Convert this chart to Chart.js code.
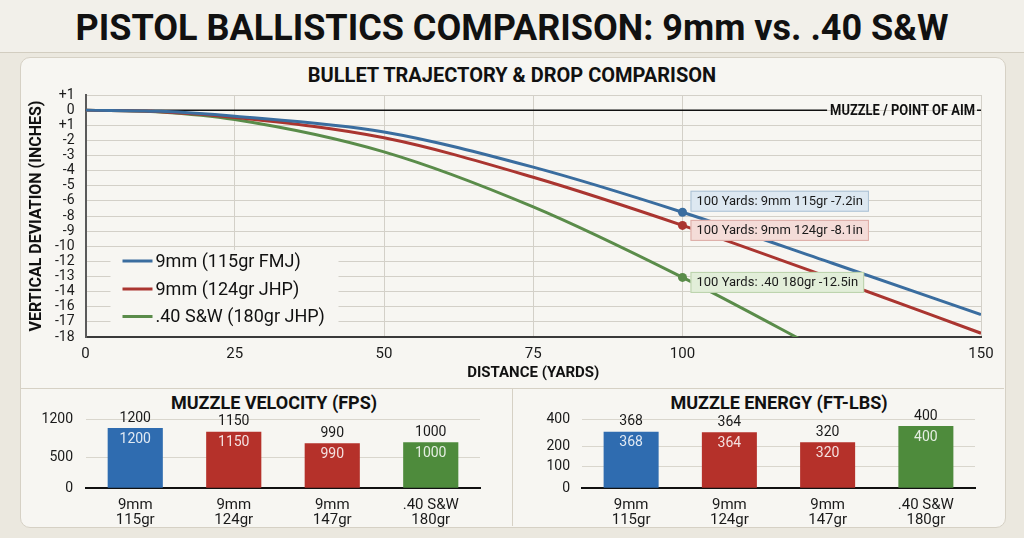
<!DOCTYPE html>
<html>
<head>
<meta charset="utf-8">
<script src="https://cdn.jsdelivr.net/npm/chart.js@4.4.0/dist/chart.umd.min.js"></script>
<style>
  body { margin: 0; width: 1024px; height: 538px; overflow: hidden; position: relative; background: #ebe8df; font-family: Roboto, sans-serif; color: #111; }
  #top { position: absolute; left: 0; top: 0; width: 1024px; height: 52px; background: #f2f0ea; border-bottom: 1px solid #d2cdc0; }
  #top h1 { margin: 0; font: bold 36px Roboto; line-height: 56px; text-align: center; }
  #panel { position: absolute; left: 20px; top: 57px; width: 984px; height: 469px; background: #f7f6f2; border: 1px solid #d6d1c5; border-radius: 10px; }
  .hline { position: absolute; left: 21px; top: 388px; width: 983px; height: 1px; background: #d6d1c5; }
  .vline { position: absolute; left: 512px; top: 388px; width: 1px; height: 138px; background: #d6d1c5; }
  .hdr { position: absolute; font-weight: bold; text-align: center; white-space: nowrap; }
  canvas { position: absolute; }
</style>
</head>
<body>
<div id="top"><h1>PISTOL BALLISTICS COMPARISON: 9mm vs. .40 S&amp;W</h1></div>
<div id="panel"></div>
<div class="hline"></div>
<div class="vline"></div>
<div class="hdr" style="left:0;top:63px;width:1024px;font-size:20px;line-height:25px;">BULLET TRAJECTORY &amp; DROP COMPARISON</div>
<div class="hdr" style="left:40px;top:392px;width:468px;font-size:18px;line-height:22px;">MUZZLE VELOCITY (FPS)</div>
<div class="hdr" style="left:545px;top:392px;width:468px;font-size:18px;line-height:22px;">MUZZLE ENERGY (FT-LBS)</div>
<canvas id="trajectory" width="985" height="331" style="left:20px;top:57px;"></canvas>
<canvas id="velocityChart" width="492" height="139" style="left:20px;top:388px;"></canvas>
<canvas id="energyChart" width="493" height="139" style="left:512px;top:388px;"></canvas>
<script>
// trajectory chart
const xTicks = [0, 25, 50, 75, 100, 150];
const yTickLabels = ['+1', '0', '+1', '-2', '-3', '-4', '-5', '-6', '-8', '-9', '-10', '-12', '-13', '-14', '-16', '-17', '-18'];
const seriesNames = ['9mm (115gr FMJ)', '9mm (124gr JHP)', '.40 S&W (180gr JHP)'];
const lineColors = ['#3a6d9f', '#aa3530', '#5a8c4a'];
// y values are positions on the evenly spaced tick rows (1 = top row "+1", -15 = bottom row "-18")
const yards = [0, 12.5, 25, 50, 75, 100, 125, 150];
const drop115 = [0, -0.08, -0.40, -1.44, -3.77, -6.75, -10.11, -13.51];
const drop124 = [0, -0.10, -0.48, -1.83, -4.44, -7.62, -11.13, -14.75];
const drop40 = [0, -0.12, -0.62, -2.76, -6.40, -11.06, -16.26];
const markerNames = ['9mm 115gr', '9mm 124gr', '.40 180gr'];
const dropAt100 = [-7.2, -8.1, -12.5];

// bar charts
const barCats = [['9mm', '115gr'], ['9mm', '124gr'], ['9mm', '147gr'], ['.40 S&W', '180gr']];
const barColors = ['#2f6cb0', '#b5312a', '#b5312a', '#4e8b3c'];
const velocity = [1200, 1150, 990, 1000];
const velocityBars = [0.876, 0.823, 0.654, 0.669];
const velocityTicks = ['0', '500', '1200'];
const velocityTickPos = [0, 0.45, 1];
const energy = [368, 364, 320, 400];
const energyBars = [0.823, 0.814, 0.669, 0.904];
const energyTicks = ['0', '100', '200', '400'];
const energyTickPos = [0, 0.31, 0.605, 1];

Chart.defaults.font.family = 'Roboto';
Chart.defaults.color = '#1a1a1a';

const toPoints = (xs, ys) => ys.map((v, i) => ({ x: xs[i], y: v }));

const trajectoryExtras = {
    id: 'trajectoryExtras',
    beforeDatasetsDraw(chart) {
        const { ctx, chartArea: a, scales: { y } } = chart;
        const y0 = y.getPixelForValue(0);
        const label = 'MUZZLE / POINT OF AIM';
        ctx.save();
        ctx.font = 'bold 15px Roboto';
        const tw = ctx.measureText(label).width * 0.86;
        const tx = a.right - 6 - tw;
        ctx.strokeStyle = '#111';
        ctx.lineWidth = 1.5;
        ctx.beginPath();
        ctx.moveTo(a.left, y0);
        ctx.lineTo(tx - 3, y0);
        ctx.moveTo(a.right - 4, y0);
        ctx.lineTo(a.right, y0);
        ctx.stroke();
        ctx.translate(tx, y0);
        ctx.scale(0.86, 1);
        ctx.fillStyle = '#111';
        ctx.textBaseline = 'middle';
        ctx.fillText(label, 0, 1);
        ctx.restore();
    },
    afterDatasetsDraw(chart) {
        const { ctx, chartArea: a, scales: { x, y } } = chart;
        ctx.save();

        // legend in the lower left corner
        ctx.fillStyle = '#f7f6f2';
        ctx.fillRect(a.left + 25, a.bottom - 87, 228, 86);
        ctx.font = '18px Roboto';
        ctx.textBaseline = 'middle';
        const rows = [76, 48, 20.5];
        seriesNames.forEach((name, i) => {
            const ry = a.bottom - rows[i];
            ctx.strokeStyle = lineColors[i];
            ctx.lineWidth = 3;
            ctx.beginPath();
            ctx.moveTo(a.left + 37, ry);
            ctx.lineTo(a.left + 67, ry);
            ctx.stroke();
            ctx.fillStyle = '#111';
            ctx.fillText(name, a.left + 70, ry + 1);
        });

        // 100 yard callouts
        const fills = ['#dde8f1', '#f4dcd8', '#e2eed9'];
        const edges = ['#a9bfd3', '#dcaaa4', '#b9d1aa'];
        const shift = [-11, 5, 5];
        ctx.font = '13px Roboto';
        chart.data.datasets.forEach((ds, i) => {
            const pt = ds.data.find(p => p.x === 100);
            const px = x.getPixelForValue(pt.x);
            const py = y.getPixelForValue(pt.y);
            const text = `100 Yards: ${markerNames[i]} ${dropAt100[i]}in`;
            const w = ctx.measureText(text).width + 12;
            const bx = px + 8, by = py + shift[i] - 10.5;
            ctx.fillStyle = fills[i];
            ctx.fillRect(bx, by, w, 21);
            ctx.strokeStyle = edges[i];
            ctx.lineWidth = 1;
            ctx.strokeRect(bx + 0.5, by + 0.5, w - 1, 20);
            ctx.fillStyle = '#1a1a1a';
            ctx.fillText(text, bx + 6, by + 11);
        });
        ctx.restore();
    }
};

new Chart(document.getElementById('trajectory'), {
    type: 'line',
    data: {
        datasets: [drop115, drop124, drop40].map((d, i) => ({
            label: seriesNames[i],
            data: toPoints(yards, d),
            borderColor: lineColors[i],
            backgroundColor: lineColors[i],
            borderWidth: 3,
            cubicInterpolationMode: 'monotone',
            pointRadius: c => (c.raw && c.raw.x === 100 ? 4.5 : 0),
            pointBorderWidth: 0,
            pointBackgroundColor: lineColors[i],
            clip: 0
        }))
    },
    options: {
        responsive: false,
        animation: false,
        layout: { padding: { top: 38, right: 24, left: 0, bottom: 0 } },
        plugins: { legend: { display: false }, tooltip: { enabled: false } },
        scales: {
            x: {
                type: 'linear',
                min: 0,
                max: 150,
                afterBuildTicks: s => { s.ticks = xTicks.map(v => ({ value: v })); },
                afterFit: s => { s.height = 51; },
                grid: { color: '#d3d0c8', drawTicks: false },
                border: { color: '#3a3a3a', width: 2 },
                ticks: { font: { size: 15 }, padding: 8, maxRotation: 0, autoSkip: false },
                title: { display: true, text: 'DISTANCE (YARDS)', font: { size: 15, weight: 'bold' }, color: '#111', padding: { top: 0, bottom: 6 } }
            },
            y: {
                type: 'linear',
                min: -15,
                max: 1,
                ticks: {
                    stepSize: 1,
                    autoSkip: false,
                    font: { size: 14 },
                    padding: 11,
                    callback: v => yTickLabels[Math.round(1 - v)]
                },
                afterFit: s => { s.width = 65.5; },
                grid: { color: '#d3d0c8', drawTicks: false },
                border: { color: '#5a5a5a', width: 2 },
                title: { display: true, text: 'VERTICAL DEVIATION (INCHES)', font: { size: 16, weight: 'bold' }, color: '#111', padding: { top: 7, bottom: 0 } }
            }
        }
    },
    plugins: [trajectoryExtras]
});

const barValues = {
    id: 'barValues',
    afterDatasetsDraw(chart, args, opts) {
        const { ctx } = chart;
        ctx.save();
        ctx.font = '14px Roboto';
        ctx.textAlign = 'center';
        ctx.textBaseline = 'middle';
        chart.getDatasetMeta(0).data.forEach((bar, i) => {
            const t = String(opts.values[i]);
            ctx.fillStyle = '#1a1a1a';
            ctx.fillText(t, bar.x, bar.y - 10);
            ctx.fillStyle = 'rgba(255,255,255,0.85)';
            ctx.fillText(t, bar.x, bar.y + 11);
        });
        ctx.restore();
    }
};

function makeBarChart(id, values, heights, tickLabels, tickPos, axisWidth, labelPad, rightPad) {
    return new Chart(document.getElementById(id), {
        type: 'bar',
        data: {
            labels: barCats,
            datasets: [{ data: heights, backgroundColor: barColors, barPercentage: 0.56, categoryPercentage: 1 }]
        },
        options: {
            responsive: false,
            animation: false,
            layout: { padding: { top: 31.5, right: rightPad, left: 0, bottom: 0 } },
            plugins: { legend: { display: false }, tooltip: { enabled: false }, barValues: { values } },
            scales: {
                x: {
                    grid: { display: false },
                    border: { color: '#111', width: 2 },
                    ticks: { font: { size: 15, lineHeight: 1.0 }, padding: 1, maxRotation: 0, autoSkip: false },
                    afterFit: s => { s.height = 38.7; }
                },
                y: {
                    min: 0,
                    max: 1,
                    afterBuildTicks: s => { s.ticks = tickPos.map(v => ({ value: v })); },
                    ticks: { callback: (v, i) => tickLabels[i], font: { size: 14 }, padding: labelPad, autoSkip: false },
                    grid: { color: '#d9d6cd', drawTicks: false },
                    border: { display: false },
                    afterFit: s => { s.width = axisWidth; }
                }
            }
        },
        plugins: [barValues]
    });
}

makeBarChart('velocityChart', velocity, velocityBars, velocityTicks, velocityTickPos, 66, 13, 32);
makeBarChart('energyChart', energy, energyBars, energyTicks, energyTickPos, 70, 12, 30);
</script>
</body>
</html>
